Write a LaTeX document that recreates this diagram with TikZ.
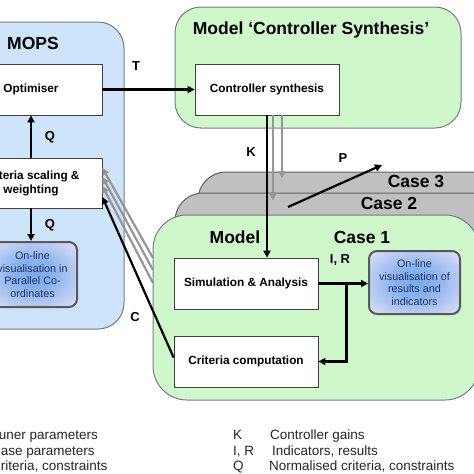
\documentclass[tikz,border=0pt]{standalone}
\usepackage{fontspec}
\setmainfont{Liberation Sans}
\usetikzlibrary{arrows.meta,calc}
\definecolor{mopsblue}{RGB}{206,228,250}
\definecolor{modelgreen}{RGB}{208,246,204}
\definecolor{casegray}{RGB}{192,192,192}
\definecolor{panelborder}{RGB}{115,125,135}
\definecolor{vistext}{RGB}{35,50,95}
\definecolor{grayarrow}{RGB}{150,150,150}
\definecolor{visinner}{RGB}{120,170,238}
\definecolor{visouter}{RGB}{236,230,248}
\pgfdeclareradialshading{visglow}{\pgfpoint{0bp}{0bp}}{color(0bp)=(visinner); color(12bp)=(visinner!85!visouter); color(38bp)=(visouter); color(50bp)=(visouter)}
\begin{document}
\begin{tikzpicture}[x=1pt,y=-1pt,
  panel/.style={draw=panelborder, line width=1pt, rounded corners=26pt},
  casepanel/.style={draw=gray!75!black, line width=1pt, fill=casegray, rounded corners=28pt},
  procbox/.style={draw=black!75, fill=white, line width=0.8pt, minimum width=144pt, minimum height=51pt, inner sep=0pt, font=\fontsize{11.8}{14}\selectfont\bfseries, align=center},
  visbox/.style={draw=black!65, line width=2pt, rounded corners=8pt, shading=visglow, inner sep=0pt, align=center, text=vistext, font=\fontsize{10.8}{12.5}\selectfont},
  arr/.style={line width=2.2pt, -{Triangle[length=7pt,width=7pt]}},
  garr/.style={draw=grayarrow, line width=2.2pt, -{Triangle[length=7pt,width=7pt]}},
  lbl/.style={font=\fontsize{13}{15}\selectfont\bfseries},
  ttl/.style={font=\fontsize{17.5}{20}\selectfont\bfseries},
  leg/.style={font=\fontsize{13.5}{16}\selectfont, anchor=base west, text=black!85, inner sep=0pt}]
\useasboundingbox (0,0) rectangle (474,474);
\clip (0,0) rectangle (474,474);

% panels
\draw[panel, fill=mopsblue] (-40,22) rectangle (124,329);
\draw[panel, fill=modelgreen] (175,7) rectangle (461,128);
\draw[casepanel] (198,172) rectangle (540,260);
\draw[casepanel] (175,193) rectangle (540,280);
\draw[panel, fill=modelgreen, rounded corners=34pt] (153,215) rectangle (479,400);

% titles
\node[ttl] (mopsT) at (33,43) {MOPS};
\node[ttl] (csT) at (311,30) {Model ‘Controller Synthesis’};
\node[ttl] (modelT) at (235,237) {Model};
\node[ttl] (c1) at (362,237) {Case 1};
\node[ttl] (c2) at (389,203) {Case 2};
\node[ttl] (c3) at (416,181) {Case 3};

% boxes
\node[procbox, minimum width=142pt] (opt) at (31,89.5) {Optimiser};
\node[procbox, minimum width=142pt, minimum height=50pt] (cs) at (31,183) {Criteria scaling \&\\weighting};
\node[visbox, minimum width=89pt, minimum height=65pt] (vis1) at (32.5,274.5) {On-line\\visualisation in\\Parallel Co-\\ordinates};
\node[procbox] (cts) at (267,89.5) {Controller synthesis};
\node[procbox] (sim) at (246,283.5) {Simulation \& Analysis};
\node[procbox] (cc) at (246,361.5) {Criteria computation};
\node[visbox, minimum width=91pt, minimum height=63pt] (vis2) at (414.5,282.5) {On-line\\visualisation of\\results and\\indicators};

% gray arrows
\draw[garr] ($(cts.south)+(6,0)$) -- ++(0,85);
\draw[garr] ($(cts.south)+(15,0)$) -- ++(0,63);
\coordinate (g1) at (153,258);
\coordinate (g2) at (153,270);
\coordinate (g3) at (153,283);
\draw[garr] (g1) -- ($(cs.east)+(0,-15)$);
\draw[garr] (g2) -- ($(cs.east)+(0,-6)$);
\draw[garr] (g3) -- ($(cs.east)+(0,3)$);

% black arrows
\draw[arr] (opt.east) -- (cts.west);
\draw[arr] (cs.north) -- (opt.south);
\draw[arr] (cs.south) -- (cs.south |- vis1.north);
\draw[arr] (cts.south) -- (cts.south |- sim.north);
\coordinate (p0) at (288,207);
\coordinate (p1) at (382,165);
\draw[arr] (p0) -- (p1);
\draw[arr] (sim.east) -- (sim.east -| vis2.west);
\coordinate (br) at ($(sim.east)+(28,0)$);
\draw[arr] (br) |- (cc.east);
\draw[arr] ($(cc.west)+(0,-4)$) -- ($(cs.east)+(0,14)$);

% labels
\node[lbl] (lT) at (136,66) {T};
\node[lbl] (lQ1) at (50,137) {Q};
\node[lbl] (lQ2) at (50,225) {Q};
\node[lbl] (lK) at (251,152) {K};
\node[lbl] (lP) at (343,158) {P};
\node[lbl] (lIR) at (340,260) {I, R};
\node[lbl] (lC) at (135,317) {C};

% legend
\node[leg] (kT) at (-46,439) {T};
\node[leg] (dT) at (-9,439) {Tuner parameters};
\node[leg] (kP) at (-46,455) {P};
\node[leg] (dP) at (-9,455) {Case parameters};
\node[leg] (kC) at (-46,470) {C};
\node[leg] (dC) at (-9,470) {Criteria, constraints};
\node[leg] (kK) at (233,439) {K};
\node[leg] (dK) at (270,439) {Controller gains};
\node[leg] (kIR) at (233,455) {I, R};
\node[leg] (dIR) at (272,455) {Indicators, results};
\node[leg] (kQ) at (233,470) {Q};
\node[leg] (dQ) at (269,470) {Normalised criteria, constraints};
\end{tikzpicture}
\end{document}
